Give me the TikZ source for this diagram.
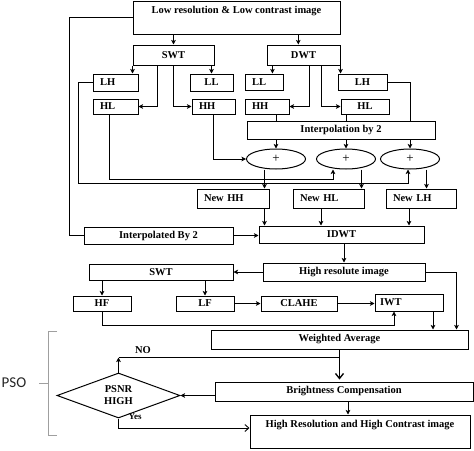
\documentclass[tikz,border=0pt]{standalone}
\usepackage{fontspec}
\setmainfont{Liberation Serif}
\newfontfamily\psofont{Carlito}
\usetikzlibrary{arrows.meta,shapes.geometric,calc}

\tikzset{
  blk/.style 2 args={draw, line width=1pt, minimum width=#1, minimum height=#2, inner sep=0pt},
  lblk/.style 2 args={draw, line width=1pt, text width=#1, minimum height=#2, inner xsep=7pt, inner ysep=0pt, align=left},
  sumnode/.style={draw, line width=1pt, ellipse, minimum width=59, minimum height=20, inner sep=0pt, font=\fontsize{13}{13}\selectfont},
  decide/.style={draw, line width=1pt, diamond, aspect=2.7, minimum width=123, minimum height=45, inner sep=0pt, align=center},
  wire/.style={line width=0.9pt},
  arr/.style={line width=0.9pt, -{Stealth[length=4.5pt,width=4.5pt,inset=1pt]}},
  bigarr/.style={line width=1.3pt, shorten >=2pt, -{Straight Barb[length=5pt,width=8pt]}},
  barb/.style={line width=0.9pt, -{Straight Barb[length=4pt,width=7pt]}},
  brace/.style={line width=0.9pt, gray!75},
}

\begin{document}
\begin{tikzpicture}[x=1pt,y=-1pt, font=\bfseries\fontsize{10.5}{12}\selectfont]
\useasboundingbox (0,0) rectangle (474,450);

% boxes of the wavelet stage
\node[blk={207}{33}, align=center] (top) at (236.5,17.5) {Low resolution \& Low contrast image\\[3pt]\mbox{}};
\node[blk={81}{20}] (swt) at (173.5,55) {SWT};
\node[blk={73}{20}] (dwt) at (303.5,55) {DWT};
\node[lblk={31}{17}] (slh) at (115.5,82.5) {LH};
\node[blk={43}{17}] (sll) at (211.5,82.5) {LL};
\node[lblk={31}{15}] (shl) at (115.5,106.5) {HL};
\node[lblk={29}{15}] (shh) at (213.5,106.5) {HH};
\node[lblk={24}{16}] (dll) at (264,82) {LL};
\node[blk={49}{16}] (dlh) at (362.5,82) {LH};
\node[lblk={30}{15}] (dhh) at (267,106.5) {HH};
\node[blk={48}{15}] (dhl) at (365,106.5) {HL};
\node[blk={188}{18}] (interp) at (341,130) {Interpolation by 2};
\node[sumnode] (e1) at (276,159) {+};
\node[sumnode] (e2) at (346,159) {+};
\node[sumnode] (e3) at (410,159) {+};
\node[lblk={58}{19}] (nhh) at (233,198.5) {New HH};
\node[lblk={57}{19}] (nhl) at (328.5,198.5) {New HL};
\node[lblk={56}{19}] (nlh) at (421,198.5) {New LH};
\node[blk={165}{17}] (idwt) at (341.5,234.5) {IDWT};
\node[blk={149}{17}] (ib2) at (158.5,235.5) {Interpolated By 2};

% boxes of the contrast stage
\node[blk={162}{18}] (hri) at (344,272) {High resolute image};
\node[blk={144}{16}] (swtb) at (161,272) {SWT};
\node[blk={58}{15}] (hf) at (102,303.5) {HF};
\node[blk={58}{15}] (lf) at (205,303.5) {LF};
\node[blk={76}{15}] (clahe) at (299,303.5) {CLAHE};
\node[lblk={58}{17}, inner xsep=5pt] (iwt) at (409,302.5) {IWT};
\node[blk={257}{19}] (wa) at (339.5,339.5) {Weighted Average};
\node[blk={258}{19}] (bc) at (344,391.5) {Brightness Compensation};
\node[blk={220}{33}, align=center] (hrhc) at (360,431.5) {High Resolution and High Contrast image\\[3pt]\mbox{}};
\node[decide] (psnr) at (118.5,395.5) {PSNR\\HIGH};

\node (no) at (143,350) {NO};
\node[font=\bfseries\fontsize{9}{10}\selectfont] (yes) at (135,417) {Yes};
\node[font=\psofont\fontsize{15}{15}\selectfont, anchor=east, inner sep=0pt, text=black!85] (pso) at (26.5,383) {PSO};

% from the input
\draw[arr] (swt.north |- top.south) -- (swt.north);
\coordinate (t2) at ($(top.south west)!.797!(top.south east)$);
\draw[arr] (t2) -- (t2 |- dwt.north);
\draw[wire] (top.west) -| ([xshift=-14pt]ib2.west) |- (ib2.west);

% SWT branches
\draw[arr] (swt.south west) -- (swt.south west |- slh.north);
\draw[arr] (sll.north |- swt.south) -- (sll.north);
\draw[arr] ($(swt.south west)!.31!(swt.south east)$) |- (shl.east);
\draw[arr] (swt.south) |- (shh.west);

% DWT branches
\coordinate (d1) at ($(dwt.south west)!.08!(dwt.south east)$);
\draw[arr] (d1) -- (d1 |- dll.north);
\draw[arr] (dwt.south east) -- (dwt.south east |- dlh.north);
\draw[arr] ($(dwt.south west)!.575!(dwt.south east)$) |- (dhh.east);
\draw[arr] ($(dwt.south west)!.74!(dwt.south east)$) |- (dhl.west);

% interpolation and adders
\draw[wire] (e1.north |- dhh.south) -- (e1.north |- interp.north);
\draw[wire] (e2.north |- dhl.south) -- (e2.north |- interp.north);
\draw[wire] (dlh.east) -| (e3.north |- interp.north);
\foreach \e in {e1,e2,e3}
  \draw[arr] (\e.north |- interp.south) -- (\e.north);
\draw[arr] (shh.south) |- (e1.west);
\coordinate (k2) at ([xshift=-13pt,yshift=-10pt]e2.south);
\draw[arr] ($(shl.south west)!.36!(shl.south east)$) |- (k2) -- (k2 |- e2.south);
\coordinate (k3) at ([xshift=-2pt,yshift=-14pt]e3.south);
\draw[arr] (slh.west) -- ++(-14,0) |- (k3) -- (k3 |- e3.south);

% new bands
\coordinate (n1) at ([xshift=-5pt]nhh.north east);
\coordinate (n2) at ([xshift=-3pt]nhl.north east);
\coordinate (n3) at ([xshift=-30pt]nlh.north east);
\draw[arr] (n1 |- e1.south) -- (n1);
\draw[arr] (n2 |- e2.south) -- (n2);
\draw[arr] (n3 |- e3.south) -- (n3);
\coordinate (o1) at ([xshift=-5pt]nhh.south east);
\coordinate (o2) at ([xshift=-7.5pt]nhl.south);
\coordinate (o3) at ([xshift=-12pt]nlh.south);
\foreach \o in {o1,o2,o3}
  \draw[arr] (\o) -- (\o |- idwt.north);
\draw[arr] (ib2.east) -- (ib2.east -| idwt.west);

% contrast stage
\draw[arr] (hri.north |- idwt.south) -- (hri.north);
\draw[arr] (hri.west) -- (swtb.east);
\draw[arr] (hri.east) -| ([xshift=-12pt]wa.north east);
\draw[arr] (hf.north |- swtb.south) -- (hf.north);
\draw[arr] (lf.north |- swtb.south) -- (lf.north);
\draw[arr] (lf.east) -- (lf.east -| clahe.west);
\draw[arr] (clahe.east) -- (clahe.east -| iwt.west);
\draw[arr] (hf.south) -- ++(0,14) -| ([xshift=-15pt]iwt.south);
\coordinate (w1) at ([xshift=24pt]iwt.south);
\draw[arr] (w1) -- (w1 |- wa.north);

% PSO loop
\draw[bigarr] (wa.south) -- (wa.south |- bc.north);
\coordinate (k5) at ([yshift=-8pt]wa.south);
\draw[wire] (k5) -- (k5 -| psnr.north);
\draw[arr] (psnr.north) -- (psnr.north |- k5);
\draw[arr] (psnr.east -| bc.west) -- (psnr.east);
\draw[barb] (psnr.south) |- ([yshift=3.5pt]hrhc.west);
\coordinate (b1) at ([xshift=4pt]bc.south);
\draw[arr] (b1) -- (b1 |- hrhc.north);

\draw[brace] (57,331) -| (48,435) -- (57,435);
\draw[brace] (39,383) -- (pso.east -| 48,0);
\end{tikzpicture}
\end{document}
